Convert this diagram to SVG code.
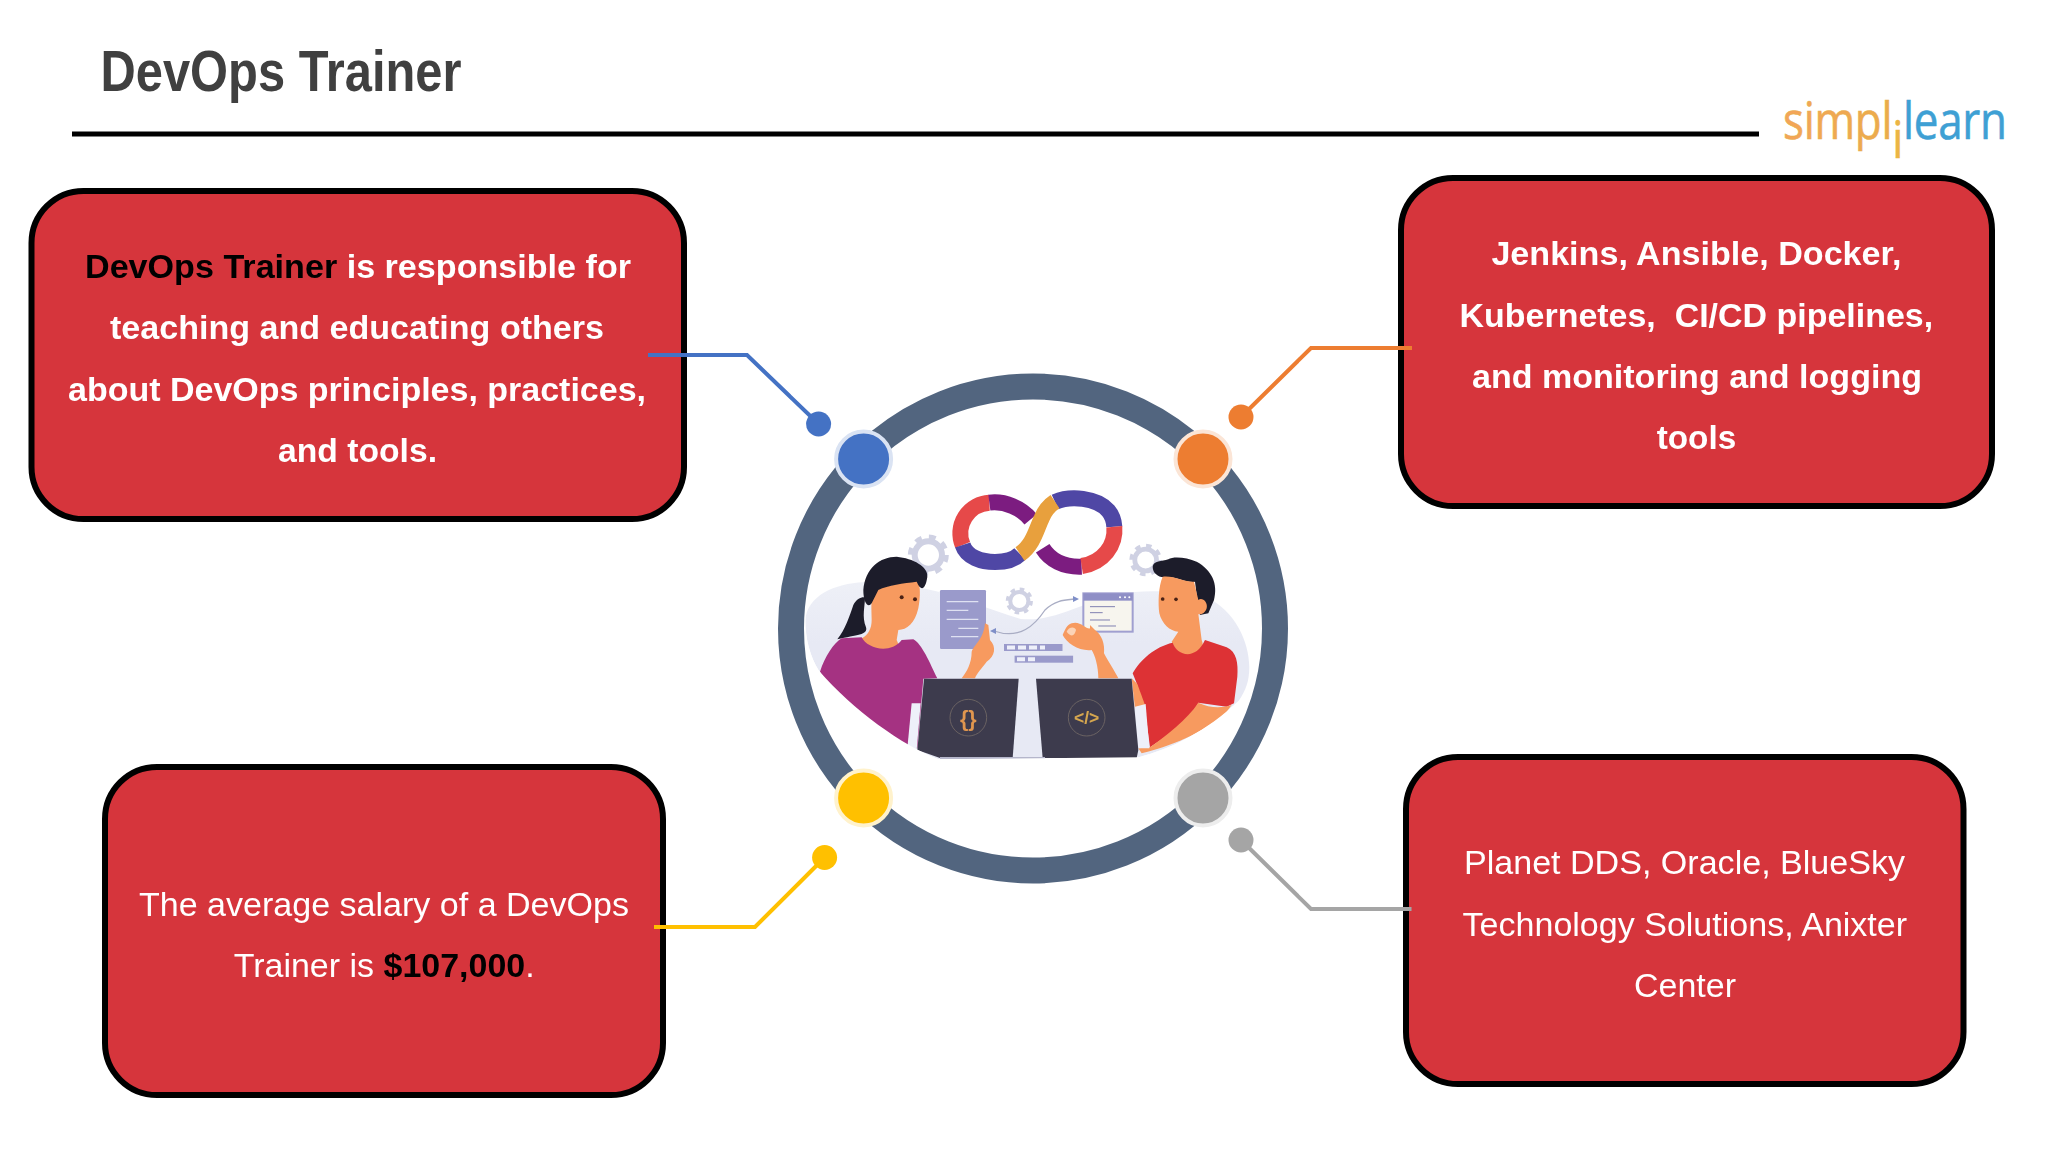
<svg xmlns="http://www.w3.org/2000/svg" width="2048" height="1152" viewBox="0 0 2048 1152">
<style>
text{font-family:"Liberation Sans",Arial,sans-serif;white-space:pre}
.t{font-size:34px;fill:#fff}
.b{font-weight:700}
.k{fill:#000;font-weight:700}
.box{fill:#d6353c;stroke:#000;stroke-width:6}
.con{fill:none;stroke-width:4;stroke-linejoin:miter}
.ink{fill:#1d1c2a}.skin{fill:#f79a5e}.lap{fill:#3d3b4d}
.il{fill:none;stroke:#dfe1f2;stroke-width:3.500}
.ml{fill:none;stroke:#7f7fb0;stroke-width:3}
.seg{fill:none;stroke-width:48}
</style>
<defs>
<g id="gear"><circle r="32" fill="#fff" stroke="#cfd1e3" stroke-width="14"/><circle r="42" fill="none" stroke="#cfd1e3" stroke-width="12" stroke-dasharray="16 16.99"/></g>
<clipPath id="clipArt"><path transform="translate(760 360) scale(.35714)" d="M127,730L127,300L1420,300L1420,900L1340,955C1250,1040 1150,1090 1060,1112L500,1118C400,1080 260,980 165,870C140,830 127,780 127,730Z"/></clipPath>
<filter id="soft" x="-5%" y="-5%" width="110%" height="110%"><feGaussianBlur stdDeviation="0.7"/></filter>
<linearGradient id="logoWarm" x1="0" x2="1" y1="0" y2="0"><stop offset="0" stop-color="#f4a45a"/><stop offset="1" stop-color="#e2b43c"/></linearGradient>
<linearGradient id="blobFill" x1="0" x2="0" y1="0" y2="1"><stop offset="0" stop-color="#eef0f7"/><stop offset=".35" stop-color="#e7e9f4"/></linearGradient>
</defs>
<rect width="2048" height="1152" fill="#fff"/>

<g id="header">
<text x="100.500" y="90.500" font-size="57" font-weight="700" fill="#404040" textLength="361" lengthAdjust="spacingAndGlyphs">DevOps Trainer</text>
<rect x="72" y="131.500" width="1687" height="5" fill="#000"/>
<text transform="translate(1783 139) scale(.845 1)" x="0" y="0" font-size="52" style="font-family:'Open Sans',sans-serif" stroke-width=".6" letter-spacing="-.35"><tspan fill="url(#logoWarm)" stroke="#e8b04a">simpl</tspan><tspan dy="19" fill="#ecb544" stroke="#ecb544">i</tspan><tspan dy="-19" fill="#3ea0d4" stroke="#3ea0d4">learn</tspan></text>
</g>

<g id="illustration" clip-path="url(#clipArt)"><g filter="url(#soft)">
<path id="blob" transform="translate(760 360) scale(.35714)" fill="url(#blobFill)" d="M127,730C130,660 210,625 290,622L460,640C560,660 640,700 730,725C820,735 900,680 1000,655C1100,640 1180,650 1250,665C1330,700 1370,790 1370,860C1370,900 1360,925 1340,955C1250,1040 1150,1090 1060,1112L500,1118C400,1080 260,980 165,870C140,830 127,780 127,730Z"/>

<g id="woman" transform="translate(800 540) scale(.33333)">
<use href="#gear" transform="translate(385 45) scale(1.28)"/>
<use href="#gear" transform="translate(658 183) scale(.85)"/>
<rect x="420" y="150" width="138" height="177" rx="4" fill="#9a9acb"/>
<path class="il" d="M440,185H535M440,211H505M440,238H535M475,265H535M453,290H535"/>
<path class="ink" d="M112,298C135,270 150,225 160,195C170,175 185,170 195,172C195,200 185,230 198,262C205,285 170,285 112,298Z"/>
<path class="skin" d="M225,150C260,135 320,130 350,110C362,130 362,170 355,205C345,250 320,270 295,270L290,300C300,320 300,345 285,350C260,360 200,345 185,295C205,285 215,265 215,240C215,205 210,175 225,150Z"/>
<path class="ink" d="M190,150C195,85 240,50 290,50C340,55 385,80 382,110C378,140 366,162 350,125C310,130 265,135 235,150L215,190C205,205 190,190 190,150Z"/>
<circle cx="305" cy="172" r="6" fill="#4b2317"/><circle cx="345" cy="178" r="6" fill="#4b2317"/>
<path fill="#a53282" d="M60,395C75,350 100,310 125,295L185,292C200,325 270,345 305,300L340,298C365,310 390,370 412,415L370,416L352,625L320,630C230,600 120,500 60,395Z"/>
<path class="skin" d="M485,415C500,395 515,370 515,335C525,310 550,300 555,250L565,255L570,300C590,320 585,350 560,365C545,385 530,400 525,415Z"/>
<path fill="#eef0fa" d="M335,490L362,490L350,630L322,625Z"/>
<path class="lap" d="M372,416H656L638,654H420L352,630Z"/>
<circle cx="505" cy="533" r="55" fill="none" stroke="#6a6262" stroke-width="3"/>
<text x="505" y="558" font-size="66" font-weight="700" fill="#e0964f" text-anchor="middle" textLength="50" lengthAdjust="spacingAndGlyphs">{}</text>
</g>

<g id="man" transform="translate(1030 540) scale(.33333)">
<use href="#gear" transform="translate(347 60) scale(1.02)"/>
<rect x="160" y="160" width="148" height="115" fill="#f7f5ee" stroke="#a09fd0" stroke-width="6"/>
<rect x="160" y="160" width="148" height="22" fill="#8f8fc6"/>
<circle cx="270" cy="172" r="3" fill="#fff"/><circle cx="285" cy="172" r="3" fill="#fff"/><circle cx="298" cy="172" r="3" fill="#fff"/>
<path class="ml" d="M180,200H255M180,218H218M180,240H240M205,258H258"/>
<path class="ink" d="M368,80C370,62 395,65 415,58C430,48 470,52 500,65C545,90 565,130 552,180L535,220L510,225L500,165L495,125C470,130 430,105 400,112C385,110 368,100 368,80Z"/>
<path class="skin" d="M398,110C430,105 470,128 492,125L505,180C515,170 535,185 530,205C525,222 510,225 505,222L515,300C535,350 460,385 425,305L445,275C420,275 395,250 388,220C384,190 385,140 398,110Z"/>
<circle cx="398" cy="177" r="5.500" fill="#4b2317"/><circle cx="438" cy="178" r="5.500" fill="#4b2317"/>
<path class="skin" d="M205,415C205,380 195,345 185,330C150,335 110,310 98,285C105,270 110,255 125,250C150,240 170,270 180,265L180,255L195,270C215,285 225,310 222,340C235,365 255,395 265,415Z"/>
<path fill="#fbd3b6" d="M110,275C115,260 135,258 138,270C135,285 125,295 110,275Z"/>
<path fill="#dd3035" d="M308,400C330,360 375,320 428,308C440,345 495,365 525,300L590,322C620,335 625,370 622,410L612,490L590,500L505,488L480,540L360,622L345,510L320,430Z"/>
<path class="skin" d="M505,488C540,505 575,505 605,495L590,515C530,570 450,610 335,640L325,625L360,622C410,585 470,540 505,488Z"/>
<path class="skin" d="M305,415L322,432L347,500L315,505Z"/>
<path fill="#eef0fa" d="M315,500L347,492L358,625L325,625Z"/>
<path class="lap" d="M18,416H305L325,630L320,654H38Z"/>
<circle cx="170" cy="533" r="55" fill="none" stroke="#6a6262" stroke-width="3"/>
<text x="170" y="553" font-size="54" font-weight="700" fill="#d5a650" text-anchor="middle" textLength="76" lengthAdjust="spacingAndGlyphs">&lt;/&gt;</text>
</g>

<g id="mid">
<rect x="940" y="757" width="105" height="2" fill="#b5b6cb"/>
<rect x="1004" y="644" width="58.500" height="7" fill="#9a9acb"/>
<path d="M1007,647.500H1045" stroke="#eef0fa" stroke-width="4" stroke-dasharray="8 3" fill="none"/>
<rect x="1014.600" y="655.700" width="58.500" height="7" fill="#9a9acb"/>
<path d="M1017,659.200H1035" stroke="#eef0fa" stroke-width="4" stroke-dasharray="8 3" fill="none"/>
<path d="M994,631C1020,640 1035,625 1045,610C1055,600 1065,600 1075,599" fill="none" stroke="#a9adc4" stroke-width="1.300"/>
<path d="M990,631L996,628L996,634ZM1079,599L1073,596L1073,602Z" fill="#7f8fc8"/>
</g>
<g id="loop" transform="translate(940 480) scale(.33333)">
<path class="seg" stroke="#7b1f80" d="M425,260C370,262 330,240 308,205"/>
<path class="seg" stroke="#e64a4a" d="M68,195A92,92 0 0 1 148,68"/>
<path class="seg" stroke="#7b1f80" d="M148,68C195,62 245,85 272,118"/>
<path class="seg" stroke="#4f46a5" d="M68,195C80,232 125,246 165,246C195,246 222,240 240,222"/>
<path class="seg" stroke="#4f46a5" d="M345,66C390,46 470,52 505,92C516,105 522,125 523,140"/>
<path class="seg" stroke="#e64a4a" d="M523,140C528,195 490,248 425,258"/>
<path class="seg" stroke="#e8a03c" d="M240,222C280,195 290,145 305,115C315,90 330,75 345,65"/>
</g>
</g></g>

<circle id="ring" cx="1033" cy="628.500" r="242" fill="none" stroke="#52657f" stroke-width="26"/>

<g id="box-trainer"><rect class="box" x="31.500" y="191" width="652.500" height="328" rx="52"/>
<text class="t b" x="85" y="278" textLength="546" lengthAdjust="spacingAndGlyphs"><tspan class="k">DevOps Trainer</tspan> is responsible for</text>
<text class="t b" x="110" y="339" textLength="494" lengthAdjust="spacingAndGlyphs">teaching and educating others</text>
<text class="t b" x="68" y="400.500" textLength="578" lengthAdjust="spacingAndGlyphs">about DevOps principles, practices,</text>
<text class="t b" x="278" y="462" textLength="159" lengthAdjust="spacingAndGlyphs">and tools.</text>
</g>
<g id="box-tools"><rect class="box" x="1401" y="178" width="591" height="328" rx="52"/>
<text class="t b" x="1491.400" y="265" textLength="410" lengthAdjust="spacingAndGlyphs">Jenkins, Ansible, Docker,</text>
<text class="t b" x="1459.600" y="326.700" textLength="473.500" lengthAdjust="spacingAndGlyphs">Kubernetes,  CI/CD pipelines,</text>
<text class="t b" x="1472" y="388" textLength="450" lengthAdjust="spacingAndGlyphs">and monitoring and logging</text>
<text class="t b" x="1656.700" y="449" textLength="79.500" lengthAdjust="spacingAndGlyphs">tools</text>
</g>
<g id="box-salary"><rect class="box" x="105" y="767" width="558" height="328" rx="52"/>
<text class="t" x="139" y="915.700" textLength="490" lengthAdjust="spacingAndGlyphs">The average salary of a DevOps</text>
<text class="t" x="233.700" y="977" textLength="301" lengthAdjust="spacingAndGlyphs">Trainer is <tspan class="k">$107,000</tspan>.</text>
</g>
<g id="box-companies"><rect class="box" x="1406" y="757" width="557.500" height="327" rx="52"/>
<text class="t" x="1464" y="874" textLength="441" lengthAdjust="spacingAndGlyphs">Planet DDS, Oracle, BlueSky</text>
<text class="t" x="1462.600" y="935.700" textLength="444.500" lengthAdjust="spacingAndGlyphs">Technology Solutions, Anixter</text>
<text class="t" x="1634" y="996.700" textLength="102" lengthAdjust="spacingAndGlyphs">Center</text>
</g>

<g id="connectors">
<path class="con" stroke="#4472c4" d="M648,355H747L818.600,424"/>
<path class="con" stroke="#ed7d31" d="M1412,348H1311L1241,417"/>
<path class="con" stroke="#ffc000" d="M654,927H755L824.600,857.500"/>
<path class="con" stroke="#a5a5a5" d="M1411.500,909H1311L1241,840"/>
</g>

<g id="node-blue"><circle cx="863.600" cy="459" r="27.500" fill="#4472c4" stroke="#dae3f3" stroke-width="4"/><circle cx="818.600" cy="424" r="12.500" fill="#4472c4"/></g>
<g id="node-orange"><circle cx="1203" cy="459" r="27.500" fill="#ed7d31" stroke="#fbe5d6" stroke-width="4"/><circle cx="1241" cy="417" r="12.500" fill="#ed7d31"/></g>
<g id="node-yellow"><circle cx="863.600" cy="798" r="27.500" fill="#ffc000" stroke="#fff2cc" stroke-width="4"/><circle cx="824.600" cy="857.500" r="12.500" fill="#ffc000"/></g>
<g id="node-grey"><circle cx="1203" cy="798" r="27.500" fill="#a5a5a5" stroke="#ededed" stroke-width="4"/><circle cx="1241" cy="840" r="12.500" fill="#a5a5a5"/></g>
</svg>
